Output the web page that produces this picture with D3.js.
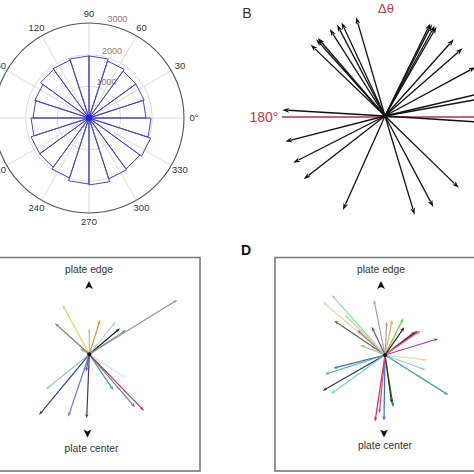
<!DOCTYPE html>
<html><head><meta charset="utf-8">
<script src="https://cdn.jsdelivr.net/npm/d3@7"></script>
<style>html,body{margin:0;padding:0;background:#fff;overflow:hidden}</style>
</head><body>
<svg id="fig" width="474" height="474" xmlns="http://www.w3.org/2000/svg"></svg>
<script>
// ---------- DATA ----------
// Panel A: rose histogram (20 bins of 18 degrees), counts per bin
const roseBinStartDeg = [0,18,36,54,72,90,108,126,144,162,180,198,216,234,252,270,288,306,324,342];
const roseCounts = [1800,1830,1830,1895,1960,1960,1925,1895,1800,1770,1830,1925,1925,1990,2085,2115,2020,1990,2050,1960];
const polarAngleTicks = [0,30,60,90,120,150,180,210,240,270,300,330];
const polarAngleLabels = ["0°","30","60","90","120","150","180","210","240","270","300","330"];
const polarRadialTicks = [1000,2000,3000];

// Panel B: unit direction vectors (degrees)
const deltaThetaDeg = [136.2,131.9,130.7,122.4,117.7,114.9,106.3,
  63.9,62.9,61.2,60.0,48.1,41.1,28.4,13.3,10.2,-3.7,
  176.6,194.4,207.0,217.9,245.9,286.7,298.0,315.8];

// Panel C: displacement vectors (x, y components)
const plateC_x = [-26.6,-34.3,0,10.7,26.4,30.7,36.7,88,35.7,24,45.7,54.7,-2.6,-21,-50.3,-43.3,-9.3,-3.3];
const plateC_y = [49.3,31,26,34.3,32.6,26,24.3,54.3,-23,-35.7,-53,-56.4,-64,-62.4,-60.7,-35,6,-17.4];

// Panel D: displacement vectors (x, y components)
const plateD_x = [-53.3,-62.3,-50.7,-11,-27.7,-13.3,-25,1.7,7.3,18.3,19.3,30,33.3,35.7,53.3,42.3,40.7,63.3,8.3,6.7,-1,-10,-5.7,-51.7,-60,-62.3,-54.3,-40];
const plateD_y = [60,53.3,34.3,55,25,28.3,10,33.3,35,36.7,27.7,23.3,24.3,24.3,16.3,-5,-15,-40,-52.3,-48.3,-65.7,-66.7,-58.3,-13.3,-19.3,-35.7,-39,40];

// ---------- STYLES ----------
const colorsC = ["#d6de58","#7d7b5e","#a9c9b2","#d8902e","#9edbd0","#1e1e1e","#5aaa9a","#a48c94",
  "#d6e6de","#4c9c7a","#6b8282","#c42a5c","#54306e","#5c7ad2","#3c3c9c","#7ed0ba","#9a9a9a","#4452c2"];
const colorsD = ["#92e092","#ead4b4","#4f6e50","#b39aa2","#d452a4","#8442a2","#d2aa84","#a4a4a4","#e2b244",
  "#72c244","#222222","#a42232","#333333","#e874a6","#9442c4","#e8d8aa","#84d2da","#42a28a","#22852f",
  "#333333","#3272c2","#e22434","#c444a4","#3472a2","#52a2c4","#343444","#72d2d2","#a8e4a0"];

const svg = d3.select("#fig");
const font = "'Liberation Sans', Arial, Helvetica, sans-serif";

function arrow(g, x1, y1, x2, y2, color, lw, L, W) {
  const dx = x2 - x1, dy = y2 - y1, len = Math.hypot(dx, dy);
  const ux = dx / len, uy = dy / len;
  const bx = x2 - ux * L, by = y2 - uy * L;
  g.append("line").attr("x1", x1).attr("y1", y1).attr("x2", bx + ux * 1).attr("y2", by + uy * 1)
    .attr("stroke", color).attr("stroke-width", lw);
  g.append("polygon")
    .attr("points", [[x2, y2], [bx - uy * W, by + ux * W], [bx + ux * L * 0.25, by + uy * L * 0.25], [bx + uy * W, by - ux * W]].map(p => p.join(",")).join(" "))
    .attr("fill", color);
}

// ---------- PANEL A ----------
{
  const cx = 89, cy = 118;
  const r = d3.scaleLinear().domain([0, 3000]).range([0, 95]);
  const rad = d => d * Math.PI / 180;
  const P = (v, a) => [cx + r(v) * Math.cos(rad(a)), cy - r(v) * Math.sin(rad(a))];
  const g = svg.append("g");
  g.selectAll("circle.ring").data(polarRadialTicks.slice(0, -1)).join("circle")
    .attr("cx", cx).attr("cy", cy).attr("r", d => r(d))
    .attr("fill", "none").attr("stroke", "#dcdcdc").attr("stroke-width", 1);
  g.selectAll("line.spoke").data(polarAngleTicks).join("line")
    .attr("x1", cx).attr("y1", cy)
    .attr("x2", d => P(3000, d)[0]).attr("y2", d => P(3000, d)[1])
    .attr("stroke", "#dcdcdc").attr("stroke-width", 1);
  g.append("circle").attr("cx", cx).attr("cy", cy).attr("r", r(3000))
    .attr("fill", "none").attr("stroke", "#555").attr("stroke-width", 1.1);
  g.selectAll("path.wedge").data(roseCounts).join("path")
    .attr("d", (d, i) => {
      const a0 = roseBinStartDeg[i], a1 = a0 + 18;
      return "M" + [cx, cy] + "L" + P(d, a0) + "L" + P(d, a1) + "Z";
    })
    .attr("fill", "none").attr("stroke", "#4646c4").attr("stroke-width", 1);
  g.append("circle").attr("cx", cx).attr("cy", cy).attr("r", 3.2).attr("fill", "#2020e0");
  g.selectAll("text.ang").data(polarAngleTicks).join("text")
    .attr("x", d => cx + 105 * Math.cos(rad(d)))
    .attr("y", d => cy - 104 * Math.sin(rad(d)) + 3.3)
    .attr("text-anchor", "middle").attr("font-family", font).attr("font-size", 9.5).attr("fill", "#333")
    .text((d, i) => polarAngleLabels[i]);
  g.selectAll("text.rad").data(polarRadialTicks).join("text")
    .attr("x", d => P(d, 80)[0] + 12).attr("y", d => P(d, 80)[1] - 2)
    .attr("text-anchor", "middle").attr("font-family", font).attr("font-size", 9).attr("fill", "#9a7276")
    .text(d => d);
}

// ---------- PANEL B ----------
{
  const cx = 385, cy = 116;
  const len = d3.scaleLinear().domain([0, 1]).range([0, 103]);
  const g = svg.append("g");
  svg.append("text").attr("x", 247).attr("y", 18).attr("text-anchor", "middle")
    .attr("font-family", font).attr("font-size", 14).attr("fill", "#333").text("B");
  svg.append("text").attr("x", 386).attr("y", 13).attr("text-anchor", "middle")
    .attr("font-family", font).attr("font-size", 13).attr("fill", "#c83a44").text("Δθ");
  svg.append("text").attr("x", 264).attr("y", 122).attr("text-anchor", "middle")
    .attr("font-family", font).attr("font-size", 14).attr("fill", "#c83a44").text("180°");
  g.append("line").attr("x1", 282).attr("y1", 117).attr("x2", 480).attr("y2", 117)
    .attr("stroke", "#a83a40").attr("stroke-width", 1.6);
  deltaThetaDeg.forEach(a => {
    const t = a * Math.PI / 180;
    arrow(g, cx, cy, cx + len(1) * Math.cos(t), cy - len(1) * Math.sin(t), "#111", 1.3, 7, 2.4);
  });
}

// ---------- PANELS C and D ----------
function platePanel(cx, cy, xs, ys, colors, box, edgeY, centerY, downY) {
  const g = svg.append("g");
  g.append("rect").attr("x", box[0]).attr("y", box[1]).attr("width", box[2]).attr("height", box[3])
    .attr("fill", "none").attr("stroke", "#7a7a7a").attr("stroke-width", 1.6);
  const x = d3.scaleLinear().domain([-100, 100]).range([cx - 100, cx + 100]);
  const y = d3.scaleLinear().domain([-100, 100]).range([cy + 100, cy - 100]);
  xs.forEach((vx, i) => {
    arrow(g, x(0), y(0), x(vx), y(ys[i]), colors[i], 1.2, 4.5, 1.7);
  });
  g.append("circle").attr("cx", x(0)).attr("cy", y(0)).attr("r", 2).attr("fill", "#111");
  g.append("text").attr("x", edgeY[0]).attr("y", edgeY[1]).attr("text-anchor", "middle")
    .attr("font-family", font).attr("font-size", 10.3).attr("fill", "#333").text("plate edge");
  g.append("text").attr("x", centerY[0]).attr("y", centerY[1]).attr("text-anchor", "middle")
    .attr("font-family", font).attr("font-size", 10.3).attr("fill", "#333").text("plate center");
  const ux = edgeY[0], uy = edgeY[1] + 8;
  g.append("polygon").attr("points", [[ux, uy], [ux - 4, uy + 8], [ux, uy + 6], [ux + 4, uy + 8]].map(p => p.join(",")).join(" ")).attr("fill", "#111");
  const dx = downY[0], dy = downY[1];
  g.append("polygon").attr("points", [[dx, dy], [dx - 4, dy - 8], [dx, dy - 6], [dx + 4, dy - 8]].map(p => p.join(",")).join(" ")).attr("fill", "#111");
}
platePanel(89.3, 354.3, plateC_x, plateC_y, colorsC, [-2, 257.5, 202, 213.5], [89, 273], [91.5, 452], [87.5, 437.5]);
platePanel(385, 355, plateD_x, plateD_y, colorsD, [275, 257.5, 210, 213.5], [381, 273], [385, 449], [384, 437.5]);
svg.append("text").attr("x", 246).attr("y", 255).attr("text-anchor", "middle")
  .attr("font-family", font).attr("font-size", 14).attr("font-weight", "bold").attr("fill", "#111").text("D");
</script>
</body></html>
